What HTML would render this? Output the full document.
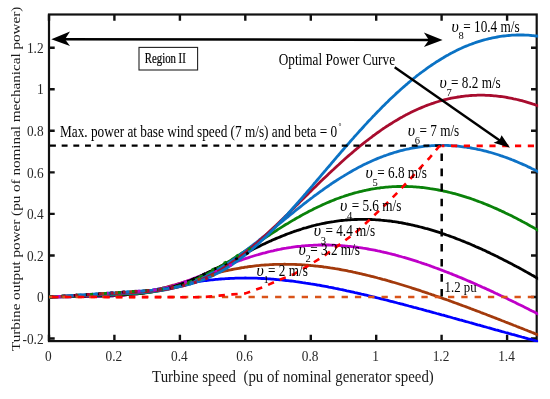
<!DOCTYPE html>
<html><head><meta charset="utf-8"><title>Turbine power characteristics</title>
<style>
html,body{margin:0;padding:0;background:#fff;}
body{width:550px;height:399px;overflow:hidden;}
svg{display:block;font-family:"Liberation Serif","Times New Roman",serif;}
</style></head><body>
<svg width="550" height="399" viewBox="0 0 550 399">
<defs>
<clipPath id="ax"><rect x="49.0" y="14.5" width="489.1" height="327.8"/></clipPath>
</defs>
<rect width="550" height="399" fill="#fff"/>
<g fill="none" stroke="#111" stroke-width="2.2">
<rect x="49.0" y="14.5" width="487.70000000000005" height="326.6"/>
<path d="M49.0,341.1 v-6.3 M49.0,14.5 v6.3 M114.4,341.1 v-6.3 M114.4,14.5 v6.3 M179.9,341.1 v-6.3 M179.9,14.5 v6.3 M245.3,341.1 v-6.3 M245.3,14.5 v6.3 M310.8,341.1 v-6.3 M310.8,14.5 v6.3 M376.2,341.1 v-6.3 M376.2,14.5 v6.3 M441.6,341.1 v-6.3 M441.6,14.5 v6.3 M507.1,341.1 v-6.3 M507.1,14.5 v6.3 M49.0,338.5 h5.7 M536.7,338.5 h-5.7 M49.0,297.0 h5.7 M536.7,297.0 h-5.7 M49.0,255.5 h5.7 M536.7,255.5 h-5.7 M49.0,213.9 h5.7 M536.7,213.9 h-5.7 M49.0,172.4 h5.7 M536.7,172.4 h-5.7 M49.0,130.8 h5.7 M536.7,130.8 h-5.7 M49.0,89.3 h5.7 M536.7,89.3 h-5.7 M49.0,47.8 h5.7 M536.7,47.8 h-5.7" stroke-width="2.4"/>
</g>
<g clip-path="url(#ax)" fill="none" stroke-width="2.8" stroke-linejoin="round">
<path d="M49.0,297.0 L50.6,297.0 L52.3,297.0 L53.9,296.9 L55.5,296.9 L57.2,296.9 L58.8,296.9 L60.5,296.9 L62.1,296.9 L63.7,296.8 L65.4,296.8 L67.0,296.8 L68.6,296.8 L70.3,296.8 L71.9,296.7 L73.5,296.7 L75.2,296.7 L76.8,296.7 L78.4,296.7 L80.1,296.7 L81.7,296.6 L83.4,296.6 L85.0,296.6 L86.6,296.6 L88.3,296.6 L89.9,296.5 L91.5,296.5 L93.2,296.5 L94.8,296.5 L96.4,296.4 L98.1,296.4 L99.7,296.4 L101.4,296.3 L103.0,296.3 L104.6,296.2 L106.3,296.1 L107.9,296.1 L109.5,296.0 L111.2,295.9 L112.8,295.8 L114.4,295.7 L116.1,295.5 L117.7,295.4 L119.3,295.3 L121.0,295.1 L122.6,295.0 L124.3,294.8 L125.9,294.6 L127.5,294.4 L129.2,294.2 L130.8,294.0 L132.4,293.7 L134.1,293.5 L135.7,293.2 L137.3,293.0 L139.0,292.7 L140.6,292.4 L142.3,292.1 L143.9,291.8 L145.5,291.5 L147.2,291.2 L148.8,290.9 L150.4,290.6 L152.1,290.3 L153.7,290.0 L155.3,289.6 L157.0,289.3 L158.6,289.0 L160.2,288.6 L161.9,288.3 L163.5,288.0 L165.2,287.6 L166.8,287.3 L168.4,287.0 L170.1,286.6 L171.7,286.3 L173.3,286.0 L175.0,285.7 L176.6,285.3 L178.2,285.0 L179.9,284.7 L181.5,284.4 L183.2,284.1 L184.8,283.8 L186.4,283.5 L188.1,283.2 L189.7,282.9 L191.3,282.7 L193.0,282.4 L194.6,282.1 L196.2,281.9 L197.9,281.6 L199.5,281.4 L201.1,281.2 L202.8,280.9 L204.4,280.7 L206.1,280.5 L207.7,280.3 L209.3,280.1 L211.0,279.9 L212.6,279.8 L214.2,279.6 L215.9,279.4 L217.5,279.3 L219.1,279.1 L220.8,279.0 L222.4,278.9 L224.1,278.8 L225.7,278.7 L227.3,278.6 L229.0,278.5 L230.6,278.4 L232.2,278.3 L233.9,278.3 L235.5,278.2 L237.1,278.2 L238.8,278.1 L240.4,278.1 L242.0,278.1 L243.7,278.1 L245.3,278.0 L247.0,278.1 L248.6,278.1 L250.2,278.1 L251.9,278.1 L253.5,278.1 L255.1,278.2 L256.8,278.2 L258.4,278.3 L260.0,278.4 L261.7,278.5 L263.3,278.5 L265.0,278.6 L266.6,278.7 L268.2,278.8 L269.9,278.9 L271.5,279.1 L273.1,279.2 L274.8,279.3 L276.4,279.5 L278.0,279.6 L279.7,279.8 L281.3,279.9 L282.9,280.1 L284.6,280.3 L286.2,280.5 L287.9,280.6 L289.5,280.8 L291.1,281.0 L292.8,281.2 L294.4,281.4 L296.0,281.7 L297.7,281.9 L299.3,282.1 L300.9,282.3 L302.6,282.6 L304.2,282.8 L305.9,283.1 L307.5,283.3 L309.1,283.6 L310.8,283.9 L312.4,284.1 L314.0,284.4 L315.7,284.7 L317.3,285.0 L318.9,285.2 L320.6,285.5 L322.2,285.8 L323.8,286.1 L325.5,286.4 L327.1,286.7 L328.8,287.1 L330.4,287.4 L332.0,287.7 L333.7,288.0 L335.3,288.4 L336.9,288.7 L338.6,289.0 L340.2,289.4 L341.8,289.7 L343.5,290.0 L345.1,290.4 L346.8,290.8 L348.4,291.1 L350.0,291.5 L351.7,291.8 L353.3,292.2 L354.9,292.6 L356.6,292.9 L358.2,293.3 L359.8,293.7 L361.5,294.1 L363.1,294.4 L364.7,294.8 L366.4,295.2 L368.0,295.6 L369.7,296.0 L371.3,296.4 L372.9,296.8 L374.6,297.2 L376.2,297.6 L377.8,298.0 L379.5,298.4 L381.1,298.8 L382.7,299.2 L384.4,299.6 L386.0,300.0 L387.7,300.4 L389.3,300.9 L390.9,301.3 L392.6,301.7 L394.2,302.1 L395.8,302.5 L397.5,303.0 L399.1,303.4 L400.7,303.8 L402.4,304.2 L404.0,304.7 L405.6,305.1 L407.3,305.5 L408.9,306.0 L410.6,306.4 L412.2,306.8 L413.8,307.3 L415.5,307.7 L417.1,308.1 L418.7,308.6 L420.4,309.0 L422.0,309.4 L423.6,309.9 L425.3,310.3 L426.9,310.8 L428.6,311.2 L430.2,311.7 L431.8,312.1 L433.5,312.6 L435.1,313.0 L436.7,313.5 L438.4,313.9 L440.0,314.3 L441.6,314.8 L443.3,315.2 L444.9,315.7 L446.5,316.1 L448.2,316.6 L449.8,317.0 L451.5,317.5 L453.1,318.0 L454.7,318.4 L456.4,318.9 L458.0,319.3 L459.6,319.8 L461.3,320.2 L462.9,320.7 L464.5,321.1 L466.2,321.6 L467.8,322.0 L469.5,322.5 L471.1,322.9 L472.7,323.4 L474.4,323.9 L476.0,324.3 L477.6,324.8 L479.3,325.2 L480.9,325.7 L482.5,326.1 L484.2,326.6 L485.8,327.0 L487.4,327.5 L489.1,327.9 L490.7,328.4 L492.4,328.9 L494.0,329.3 L495.6,329.8 L497.3,330.2 L498.9,330.7 L500.5,331.1 L502.2,331.6 L503.8,332.0 L505.4,332.5 L507.1,332.9 L508.7,333.4 L510.4,333.8 L512.0,334.3 L513.6,334.7 L515.3,335.2 L516.9,335.6 L518.5,336.1 L520.2,336.5 L521.8,337.0 L523.4,337.4 L525.1,337.9 L526.7,338.3 L528.3,338.8 L530.0,339.2 L531.6,339.7 L533.3,340.1 L534.9,340.6 L536.5,341.0 L538.2,341.5 L539.8,341.9 L541.4,342.3 L543.1,342.8" stroke="#0000ff"/>
<path d="M49.0,297.0 L50.6,297.0 L52.3,296.9 L53.9,296.9 L55.5,296.9 L57.2,296.9 L58.8,296.8 L60.5,296.8 L62.1,296.8 L63.7,296.8 L65.4,296.7 L67.0,296.7 L68.6,296.7 L70.3,296.7 L71.9,296.6 L73.5,296.6 L75.2,296.6 L76.8,296.6 L78.4,296.5 L80.1,296.5 L81.7,296.5 L83.4,296.5 L85.0,296.4 L86.6,296.4 L88.3,296.4 L89.9,296.3 L91.5,296.3 L93.2,296.3 L94.8,296.3 L96.4,296.2 L98.1,296.2 L99.7,296.2 L101.4,296.1 L103.0,296.1 L104.6,296.0 L106.3,296.0 L107.9,295.9 L109.5,295.9 L111.2,295.8 L112.8,295.8 L114.4,295.7 L116.1,295.6 L117.7,295.5 L119.3,295.4 L121.0,295.3 L122.6,295.2 L124.3,295.0 L125.9,294.9 L127.5,294.7 L129.2,294.5 L130.8,294.3 L132.4,294.1 L134.1,293.9 L135.7,293.7 L137.3,293.5 L139.0,293.2 L140.6,292.9 L142.3,292.7 L143.9,292.4 L145.5,292.1 L147.2,291.7 L148.8,291.4 L150.4,291.1 L152.1,290.7 L153.7,290.3 L155.3,290.0 L157.0,289.6 L158.6,289.2 L160.2,288.8 L161.9,288.3 L163.5,287.9 L165.2,287.5 L166.8,287.0 L168.4,286.6 L170.1,286.1 L171.7,285.7 L173.3,285.2 L175.0,284.8 L176.6,284.3 L178.2,283.8 L179.9,283.3 L181.5,282.9 L183.2,282.4 L184.8,281.9 L186.4,281.4 L188.1,280.9 L189.7,280.4 L191.3,280.0 L193.0,279.5 L194.6,279.0 L196.2,278.5 L197.9,278.1 L199.5,277.6 L201.1,277.1 L202.8,276.7 L204.4,276.2 L206.1,275.8 L207.7,275.3 L209.3,274.9 L211.0,274.5 L212.6,274.0 L214.2,273.6 L215.9,273.2 L217.5,272.8 L219.1,272.4 L220.8,272.0 L222.4,271.6 L224.1,271.2 L225.7,270.9 L227.3,270.5 L229.0,270.2 L230.6,269.8 L232.2,269.5 L233.9,269.2 L235.5,268.9 L237.1,268.6 L238.8,268.3 L240.4,268.0 L242.0,267.7 L243.7,267.5 L245.3,267.2 L247.0,267.0 L248.6,266.7 L250.2,266.5 L251.9,266.3 L253.5,266.1 L255.1,265.9 L256.8,265.7 L258.4,265.6 L260.0,265.4 L261.7,265.2 L263.3,265.1 L265.0,265.0 L266.6,264.9 L268.2,264.8 L269.9,264.7 L271.5,264.6 L273.1,264.5 L274.8,264.4 L276.4,264.4 L278.0,264.3 L279.7,264.3 L281.3,264.3 L282.9,264.3 L284.6,264.2 L286.2,264.3 L287.9,264.3 L289.5,264.3 L291.1,264.3 L292.8,264.4 L294.4,264.4 L296.0,264.5 L297.7,264.6 L299.3,264.6 L300.9,264.7 L302.6,264.8 L304.2,264.9 L305.9,265.1 L307.5,265.2 L309.1,265.3 L310.8,265.5 L312.4,265.6 L314.0,265.8 L315.7,266.0 L317.3,266.1 L318.9,266.3 L320.6,266.5 L322.2,266.7 L323.8,267.0 L325.5,267.2 L327.1,267.4 L328.8,267.6 L330.4,267.9 L332.0,268.1 L333.7,268.4 L335.3,268.7 L336.9,268.9 L338.6,269.2 L340.2,269.5 L341.8,269.8 L343.5,270.1 L345.1,270.4 L346.8,270.7 L348.4,271.1 L350.0,271.4 L351.7,271.7 L353.3,272.1 L354.9,272.4 L356.6,272.8 L358.2,273.2 L359.8,273.5 L361.5,273.9 L363.1,274.3 L364.7,274.7 L366.4,275.1 L368.0,275.5 L369.7,275.9 L371.3,276.3 L372.9,276.7 L374.6,277.1 L376.2,277.5 L377.8,278.0 L379.5,278.4 L381.1,278.8 L382.7,279.3 L384.4,279.7 L386.0,280.2 L387.7,280.7 L389.3,281.1 L390.9,281.6 L392.6,282.1 L394.2,282.5 L395.8,283.0 L397.5,283.5 L399.1,284.0 L400.7,284.5 L402.4,285.0 L404.0,285.5 L405.6,286.0 L407.3,286.5 L408.9,287.0 L410.6,287.5 L412.2,288.1 L413.8,288.6 L415.5,289.1 L417.1,289.7 L418.7,290.2 L420.4,290.7 L422.0,291.3 L423.6,291.8 L425.3,292.4 L426.9,292.9 L428.6,293.5 L430.2,294.0 L431.8,294.6 L433.5,295.1 L435.1,295.7 L436.7,296.3 L438.4,296.9 L440.0,297.4 L441.6,298.0 L443.3,298.6 L444.9,299.2 L446.5,299.7 L448.2,300.3 L449.8,300.9 L451.5,301.5 L453.1,302.1 L454.7,302.7 L456.4,303.3 L458.0,303.9 L459.6,304.5 L461.3,305.1 L462.9,305.7 L464.5,306.3 L466.2,306.9 L467.8,307.5 L469.5,308.1 L471.1,308.8 L472.7,309.4 L474.4,310.0 L476.0,310.6 L477.6,311.2 L479.3,311.8 L480.9,312.5 L482.5,313.1 L484.2,313.7 L485.8,314.3 L487.4,315.0 L489.1,315.6 L490.7,316.2 L492.4,316.9 L494.0,317.5 L495.6,318.1 L497.3,318.8 L498.9,319.4 L500.5,320.0 L502.2,320.7 L503.8,321.3 L505.4,322.0 L507.1,322.6 L508.7,323.2 L510.4,323.9 L512.0,324.5 L513.6,325.2 L515.3,325.8 L516.9,326.5 L518.5,327.1 L520.2,327.8 L521.8,328.4 L523.4,329.0 L525.1,329.7 L526.7,330.3 L528.3,331.0 L530.0,331.6 L531.6,332.3 L533.3,332.9 L534.9,333.6 L536.5,334.2 L538.2,334.9 L539.8,335.6 L541.4,336.2 L543.1,336.9" stroke="#a33a0c"/>
<path d="M49.0,297.0 L50.6,297.0 L52.3,296.9 L53.9,296.9 L55.5,296.9 L57.2,296.8 L58.8,296.8 L60.5,296.8 L62.1,296.7 L63.7,296.7 L65.4,296.6 L67.0,296.6 L68.6,296.6 L70.3,296.5 L71.9,296.5 L73.5,296.5 L75.2,296.4 L76.8,296.4 L78.4,296.4 L80.1,296.3 L81.7,296.3 L83.4,296.3 L85.0,296.2 L86.6,296.2 L88.3,296.1 L89.9,296.1 L91.5,296.1 L93.2,296.0 L94.8,296.0 L96.4,296.0 L98.1,295.9 L99.7,295.9 L101.4,295.9 L103.0,295.8 L104.6,295.8 L106.3,295.7 L107.9,295.7 L109.5,295.6 L111.2,295.6 L112.8,295.5 L114.4,295.5 L116.1,295.4 L117.7,295.3 L119.3,295.3 L121.0,295.2 L122.6,295.1 L124.3,295.0 L125.9,294.9 L127.5,294.7 L129.2,294.6 L130.8,294.5 L132.4,294.3 L134.1,294.2 L135.7,294.0 L137.3,293.8 L139.0,293.6 L140.6,293.3 L142.3,293.1 L143.9,292.9 L145.5,292.6 L147.2,292.3 L148.8,292.0 L150.4,291.7 L152.1,291.4 L153.7,291.0 L155.3,290.7 L157.0,290.3 L158.6,289.9 L160.2,289.5 L161.9,289.1 L163.5,288.6 L165.2,288.2 L166.8,287.7 L168.4,287.2 L170.1,286.8 L171.7,286.2 L173.3,285.7 L175.0,285.2 L176.6,284.7 L178.2,284.1 L179.9,283.5 L181.5,283.0 L183.2,282.4 L184.8,281.8 L186.4,281.2 L188.1,280.6 L189.7,280.0 L191.3,279.4 L193.0,278.7 L194.6,278.1 L196.2,277.5 L197.9,276.8 L199.5,276.2 L201.1,275.5 L202.8,274.9 L204.4,274.2 L206.1,273.6 L207.7,272.9 L209.3,272.2 L211.0,271.6 L212.6,270.9 L214.2,270.3 L215.9,269.6 L217.5,269.0 L219.1,268.3 L220.8,267.7 L222.4,267.0 L224.1,266.4 L225.7,265.8 L227.3,265.1 L229.0,264.5 L230.6,263.9 L232.2,263.3 L233.9,262.7 L235.5,262.1 L237.1,261.5 L238.8,260.9 L240.4,260.3 L242.0,259.8 L243.7,259.2 L245.3,258.6 L247.0,258.1 L248.6,257.6 L250.2,257.0 L251.9,256.5 L253.5,256.0 L255.1,255.5 L256.8,255.0 L258.4,254.6 L260.0,254.1 L261.7,253.6 L263.3,253.2 L265.0,252.8 L266.6,252.3 L268.2,251.9 L269.9,251.5 L271.5,251.1 L273.1,250.8 L274.8,250.4 L276.4,250.0 L278.0,249.7 L279.7,249.4 L281.3,249.0 L282.9,248.7 L284.6,248.4 L286.2,248.2 L287.9,247.9 L289.5,247.6 L291.1,247.4 L292.8,247.1 L294.4,246.9 L296.0,246.7 L297.7,246.5 L299.3,246.3 L300.9,246.2 L302.6,246.0 L304.2,245.8 L305.9,245.7 L307.5,245.6 L309.1,245.5 L310.8,245.4 L312.4,245.3 L314.0,245.2 L315.7,245.1 L317.3,245.1 L318.9,245.0 L320.6,245.0 L322.2,245.0 L323.8,245.0 L325.5,245.0 L327.1,245.0 L328.8,245.0 L330.4,245.1 L332.0,245.1 L333.7,245.2 L335.3,245.3 L336.9,245.4 L338.6,245.5 L340.2,245.6 L341.8,245.7 L343.5,245.8 L345.1,246.0 L346.8,246.1 L348.4,246.3 L350.0,246.4 L351.7,246.6 L353.3,246.8 L354.9,247.0 L356.6,247.2 L358.2,247.5 L359.8,247.7 L361.5,247.9 L363.1,248.2 L364.7,248.4 L366.4,248.7 L368.0,249.0 L369.7,249.3 L371.3,249.6 L372.9,249.9 L374.6,250.2 L376.2,250.5 L377.8,250.9 L379.5,251.2 L381.1,251.6 L382.7,252.0 L384.4,252.3 L386.0,252.7 L387.7,253.1 L389.3,253.5 L390.9,253.9 L392.6,254.3 L394.2,254.7 L395.8,255.2 L397.5,255.6 L399.1,256.1 L400.7,256.5 L402.4,257.0 L404.0,257.4 L405.6,257.9 L407.3,258.4 L408.9,258.9 L410.6,259.4 L412.2,259.9 L413.8,260.4 L415.5,260.9 L417.1,261.4 L418.7,262.0 L420.4,262.5 L422.0,263.1 L423.6,263.6 L425.3,264.2 L426.9,264.7 L428.6,265.3 L430.2,265.9 L431.8,266.5 L433.5,267.1 L435.1,267.7 L436.7,268.3 L438.4,268.9 L440.0,269.5 L441.6,270.1 L443.3,270.7 L444.9,271.4 L446.5,272.0 L448.2,272.6 L449.8,273.3 L451.5,273.9 L453.1,274.6 L454.7,275.2 L456.4,275.9 L458.0,276.6 L459.6,277.2 L461.3,277.9 L462.9,278.6 L464.5,279.3 L466.2,280.0 L467.8,280.7 L469.5,281.4 L471.1,282.1 L472.7,282.8 L474.4,283.5 L476.0,284.2 L477.6,285.0 L479.3,285.7 L480.9,286.4 L482.5,287.2 L484.2,287.9 L485.8,288.6 L487.4,289.4 L489.1,290.1 L490.7,290.9 L492.4,291.6 L494.0,292.4 L495.6,293.2 L497.3,293.9 L498.9,294.7 L500.5,295.5 L502.2,296.2 L503.8,297.0 L505.4,297.8 L507.1,298.6 L508.7,299.4 L510.4,300.2 L512.0,301.0 L513.6,301.8 L515.3,302.6 L516.9,303.4 L518.5,304.2 L520.2,305.0 L521.8,305.8 L523.4,306.6 L525.1,307.4 L526.7,308.2 L528.3,309.0 L530.0,309.9 L531.6,310.7 L533.3,311.5 L534.9,312.3 L536.5,313.2 L538.2,314.0 L539.8,314.8 L541.4,315.7 L543.1,316.5" stroke="#bf00c8"/>
<path d="M49.0,297.0 L50.6,297.0 L52.3,296.9 L53.9,296.9 L55.5,296.8 L57.2,296.8 L58.8,296.7 L60.5,296.7 L62.1,296.6 L63.7,296.6 L65.4,296.5 L67.0,296.5 L68.6,296.4 L70.3,296.4 L71.9,296.4 L73.5,296.3 L75.2,296.3 L76.8,296.2 L78.4,296.2 L80.1,296.1 L81.7,296.1 L83.4,296.0 L85.0,296.0 L86.6,295.9 L88.3,295.9 L89.9,295.8 L91.5,295.8 L93.2,295.7 L94.8,295.7 L96.4,295.7 L98.1,295.6 L99.7,295.6 L101.4,295.5 L103.0,295.5 L104.6,295.4 L106.3,295.4 L107.9,295.3 L109.5,295.3 L111.2,295.2 L112.8,295.2 L114.4,295.1 L116.1,295.0 L117.7,295.0 L119.3,294.9 L121.0,294.8 L122.6,294.8 L124.3,294.7 L125.9,294.6 L127.5,294.5 L129.2,294.4 L130.8,294.3 L132.4,294.2 L134.1,294.1 L135.7,293.9 L137.3,293.8 L139.0,293.6 L140.6,293.4 L142.3,293.3 L143.9,293.1 L145.5,292.8 L147.2,292.6 L148.8,292.4 L150.4,292.1 L152.1,291.8 L153.7,291.6 L155.3,291.2 L157.0,290.9 L158.6,290.6 L160.2,290.2 L161.9,289.8 L163.5,289.4 L165.2,289.0 L166.8,288.6 L168.4,288.2 L170.1,287.7 L171.7,287.2 L173.3,286.7 L175.0,286.2 L176.6,285.6 L178.2,285.1 L179.9,284.5 L181.5,283.9 L183.2,283.3 L184.8,282.7 L186.4,282.1 L188.1,281.4 L189.7,280.8 L191.3,280.1 L193.0,279.4 L194.6,278.7 L196.2,278.0 L197.9,277.2 L199.5,276.5 L201.1,275.7 L202.8,275.0 L204.4,274.2 L206.1,273.4 L207.7,272.6 L209.3,271.8 L211.0,271.0 L212.6,270.2 L214.2,269.4 L215.9,268.5 L217.5,267.7 L219.1,266.9 L220.8,266.0 L222.4,265.2 L224.1,264.3 L225.7,263.5 L227.3,262.6 L229.0,261.8 L230.6,260.9 L232.2,260.0 L233.9,259.2 L235.5,258.3 L237.1,257.5 L238.8,256.6 L240.4,255.8 L242.0,254.9 L243.7,254.1 L245.3,253.2 L247.0,252.4 L248.6,251.6 L250.2,250.7 L251.9,249.9 L253.5,249.1 L255.1,248.3 L256.8,247.5 L258.4,246.7 L260.0,245.9 L261.7,245.1 L263.3,244.3 L265.0,243.6 L266.6,242.8 L268.2,242.0 L269.9,241.3 L271.5,240.6 L273.1,239.8 L274.8,239.1 L276.4,238.4 L278.0,237.7 L279.7,237.1 L281.3,236.4 L282.9,235.7 L284.6,235.1 L286.2,234.4 L287.9,233.8 L289.5,233.2 L291.1,232.6 L292.8,232.0 L294.4,231.4 L296.0,230.9 L297.7,230.3 L299.3,229.8 L300.9,229.3 L302.6,228.7 L304.2,228.2 L305.9,227.8 L307.5,227.3 L309.1,226.8 L310.8,226.4 L312.4,225.9 L314.0,225.5 L315.7,225.1 L317.3,224.7 L318.9,224.4 L320.6,224.0 L322.2,223.6 L323.8,223.3 L325.5,223.0 L327.1,222.7 L328.8,222.4 L330.4,222.1 L332.0,221.8 L333.7,221.6 L335.3,221.3 L336.9,221.1 L338.6,220.9 L340.2,220.7 L341.8,220.5 L343.5,220.3 L345.1,220.2 L346.8,220.0 L348.4,219.9 L350.0,219.8 L351.7,219.7 L353.3,219.6 L354.9,219.5 L356.6,219.5 L358.2,219.4 L359.8,219.4 L361.5,219.4 L363.1,219.4 L364.7,219.4 L366.4,219.4 L368.0,219.4 L369.7,219.5 L371.3,219.5 L372.9,219.6 L374.6,219.7 L376.2,219.8 L377.8,219.9 L379.5,220.0 L381.1,220.2 L382.7,220.3 L384.4,220.5 L386.0,220.6 L387.7,220.8 L389.3,221.0 L390.9,221.2 L392.6,221.5 L394.2,221.7 L395.8,221.9 L397.5,222.2 L399.1,222.5 L400.7,222.7 L402.4,223.0 L404.0,223.3 L405.6,223.7 L407.3,224.0 L408.9,224.3 L410.6,224.7 L412.2,225.0 L413.8,225.4 L415.5,225.8 L417.1,226.2 L418.7,226.6 L420.4,227.0 L422.0,227.4 L423.6,227.8 L425.3,228.3 L426.9,228.7 L428.6,229.2 L430.2,229.7 L431.8,230.2 L433.5,230.7 L435.1,231.2 L436.7,231.7 L438.4,232.2 L440.0,232.7 L441.6,233.3 L443.3,233.8 L444.9,234.4 L446.5,235.0 L448.2,235.5 L449.8,236.1 L451.5,236.7 L453.1,237.3 L454.7,237.9 L456.4,238.6 L458.0,239.2 L459.6,239.8 L461.3,240.5 L462.9,241.1 L464.5,241.8 L466.2,242.5 L467.8,243.1 L469.5,243.8 L471.1,244.5 L472.7,245.2 L474.4,245.9 L476.0,246.7 L477.6,247.4 L479.3,248.1 L480.9,248.8 L482.5,249.6 L484.2,250.3 L485.8,251.1 L487.4,251.9 L489.1,252.6 L490.7,253.4 L492.4,254.2 L494.0,255.0 L495.6,255.8 L497.3,256.6 L498.9,257.4 L500.5,258.2 L502.2,259.1 L503.8,259.9 L505.4,260.7 L507.1,261.6 L508.7,262.4 L510.4,263.3 L512.0,264.1 L513.6,265.0 L515.3,265.9 L516.9,266.8 L518.5,267.6 L520.2,268.5 L521.8,269.4 L523.4,270.3 L525.1,271.2 L526.7,272.1 L528.3,273.0 L530.0,274.0 L531.6,274.9 L533.3,275.8 L534.9,276.8 L536.5,277.7 L538.2,278.6 L539.8,279.6 L541.4,280.5 L543.1,281.5" stroke="#000000"/>
<path d="M49.0,297.0 L50.6,296.9 L52.3,296.9 L53.9,296.8 L55.5,296.8 L57.2,296.7 L58.8,296.6 L60.5,296.6 L62.1,296.5 L63.7,296.5 L65.4,296.4 L67.0,296.4 L68.6,296.3 L70.3,296.2 L71.9,296.2 L73.5,296.1 L75.2,296.1 L76.8,296.0 L78.4,295.9 L80.1,295.9 L81.7,295.8 L83.4,295.8 L85.0,295.7 L86.6,295.6 L88.3,295.6 L89.9,295.5 L91.5,295.5 L93.2,295.4 L94.8,295.4 L96.4,295.3 L98.1,295.2 L99.7,295.2 L101.4,295.1 L103.0,295.1 L104.6,295.0 L106.3,294.9 L107.9,294.9 L109.5,294.8 L111.2,294.8 L112.8,294.7 L114.4,294.6 L116.1,294.6 L117.7,294.5 L119.3,294.4 L121.0,294.4 L122.6,294.3 L124.3,294.2 L125.9,294.1 L127.5,294.1 L129.2,294.0 L130.8,293.9 L132.4,293.8 L134.1,293.7 L135.7,293.6 L137.3,293.5 L139.0,293.3 L140.6,293.2 L142.3,293.0 L143.9,292.9 L145.5,292.7 L147.2,292.5 L148.8,292.4 L150.4,292.1 L152.1,291.9 L153.7,291.7 L155.3,291.4 L157.0,291.2 L158.6,290.9 L160.2,290.6 L161.9,290.3 L163.5,290.0 L165.2,289.6 L166.8,289.2 L168.4,288.9 L170.1,288.4 L171.7,288.0 L173.3,287.6 L175.0,287.1 L176.6,286.6 L178.2,286.1 L179.9,285.6 L181.5,285.0 L183.2,284.5 L184.8,283.9 L186.4,283.3 L188.1,282.7 L189.7,282.0 L191.3,281.3 L193.0,280.7 L194.6,280.0 L196.2,279.2 L197.9,278.5 L199.5,277.7 L201.1,276.9 L202.8,276.1 L204.4,275.3 L206.1,274.5 L207.7,273.7 L209.3,272.8 L211.0,271.9 L212.6,271.0 L214.2,270.1 L215.9,269.2 L217.5,268.3 L219.1,267.3 L220.8,266.4 L222.4,265.4 L224.1,264.4 L225.7,263.4 L227.3,262.4 L229.0,261.4 L230.6,260.4 L232.2,259.3 L233.9,258.3 L235.5,257.3 L237.1,256.2 L238.8,255.2 L240.4,254.1 L242.0,253.0 L243.7,252.0 L245.3,250.9 L247.0,249.8 L248.6,248.7 L250.2,247.6 L251.9,246.6 L253.5,245.5 L255.1,244.4 L256.8,243.3 L258.4,242.2 L260.0,241.1 L261.7,240.1 L263.3,239.0 L265.0,237.9 L266.6,236.8 L268.2,235.8 L269.9,234.7 L271.5,233.6 L273.1,232.6 L274.8,231.5 L276.4,230.5 L278.0,229.4 L279.7,228.4 L281.3,227.4 L282.9,226.4 L284.6,225.3 L286.2,224.3 L287.9,223.4 L289.5,222.4 L291.1,221.4 L292.8,220.4 L294.4,219.5 L296.0,218.5 L297.7,217.6 L299.3,216.7 L300.9,215.7 L302.6,214.8 L304.2,213.9 L305.9,213.1 L307.5,212.2 L309.1,211.3 L310.8,210.5 L312.4,209.7 L314.0,208.8 L315.7,208.0 L317.3,207.2 L318.9,206.5 L320.6,205.7 L322.2,204.9 L323.8,204.2 L325.5,203.5 L327.1,202.8 L328.8,202.1 L330.4,201.4 L332.0,200.7 L333.7,200.1 L335.3,199.4 L336.9,198.8 L338.6,198.2 L340.2,197.6 L341.8,197.0 L343.5,196.5 L345.1,195.9 L346.8,195.4 L348.4,194.9 L350.0,194.3 L351.7,193.9 L353.3,193.4 L354.9,192.9 L356.6,192.5 L358.2,192.1 L359.8,191.7 L361.5,191.3 L363.1,190.9 L364.7,190.5 L366.4,190.2 L368.0,189.8 L369.7,189.5 L371.3,189.2 L372.9,188.9 L374.6,188.7 L376.2,188.4 L377.8,188.2 L379.5,188.0 L381.1,187.7 L382.7,187.6 L384.4,187.4 L386.0,187.2 L387.7,187.1 L389.3,186.9 L390.9,186.8 L392.6,186.7 L394.2,186.7 L395.8,186.6 L397.5,186.5 L399.1,186.5 L400.7,186.5 L402.4,186.5 L404.0,186.5 L405.6,186.5 L407.3,186.5 L408.9,186.6 L410.6,186.7 L412.2,186.7 L413.8,186.8 L415.5,186.9 L417.1,187.1 L418.7,187.2 L420.4,187.4 L422.0,187.5 L423.6,187.7 L425.3,187.9 L426.9,188.1 L428.6,188.3 L430.2,188.6 L431.8,188.8 L433.5,189.1 L435.1,189.4 L436.7,189.7 L438.4,190.0 L440.0,190.3 L441.6,190.6 L443.3,191.0 L444.9,191.3 L446.5,191.7 L448.2,192.1 L449.8,192.5 L451.5,192.9 L453.1,193.3 L454.7,193.7 L456.4,194.2 L458.0,194.6 L459.6,195.1 L461.3,195.6 L462.9,196.1 L464.5,196.6 L466.2,197.1 L467.8,197.7 L469.5,198.2 L471.1,198.7 L472.7,199.3 L474.4,199.9 L476.0,200.5 L477.6,201.1 L479.3,201.7 L480.9,202.3 L482.5,202.9 L484.2,203.6 L485.8,204.2 L487.4,204.9 L489.1,205.6 L490.7,206.3 L492.4,207.0 L494.0,207.7 L495.6,208.4 L497.3,209.1 L498.9,209.9 L500.5,210.6 L502.2,211.4 L503.8,212.1 L505.4,212.9 L507.1,213.7 L508.7,214.5 L510.4,215.3 L512.0,216.1 L513.6,216.9 L515.3,217.8 L516.9,218.6 L518.5,219.5 L520.2,220.3 L521.8,221.2 L523.4,222.1 L525.1,222.9 L526.7,223.8 L528.3,224.7 L530.0,225.7 L531.6,226.6 L533.3,227.5 L534.9,228.4 L536.5,229.4 L538.2,230.3 L539.8,231.3 L541.4,232.3 L543.1,233.2" stroke="#0a820a"/>
<path d="M49.0,297.0 L50.6,296.9 L52.3,296.9 L53.9,296.8 L55.5,296.7 L57.2,296.6 L58.8,296.6 L60.5,296.5 L62.1,296.4 L63.7,296.3 L65.4,296.3 L67.0,296.2 L68.6,296.1 L70.3,296.1 L71.9,296.0 L73.5,295.9 L75.2,295.8 L76.8,295.8 L78.4,295.7 L80.1,295.6 L81.7,295.6 L83.4,295.5 L85.0,295.4 L86.6,295.3 L88.3,295.3 L89.9,295.2 L91.5,295.1 L93.2,295.0 L94.8,295.0 L96.4,294.9 L98.1,294.8 L99.7,294.8 L101.4,294.7 L103.0,294.6 L104.6,294.5 L106.3,294.5 L107.9,294.4 L109.5,294.3 L111.2,294.2 L112.8,294.2 L114.4,294.1 L116.1,294.0 L117.7,293.9 L119.3,293.9 L121.0,293.8 L122.6,293.7 L124.3,293.6 L125.9,293.6 L127.5,293.5 L129.2,293.4 L130.8,293.3 L132.4,293.2 L134.1,293.1 L135.7,293.0 L137.3,292.9 L139.0,292.8 L140.6,292.7 L142.3,292.6 L143.9,292.4 L145.5,292.3 L147.2,292.1 L148.8,292.0 L150.4,291.8 L152.1,291.6 L153.7,291.4 L155.3,291.2 L157.0,291.0 L158.6,290.8 L160.2,290.6 L161.9,290.3 L163.5,290.0 L165.2,289.8 L166.8,289.5 L168.4,289.1 L170.1,288.8 L171.7,288.4 L173.3,288.1 L175.0,287.7 L176.6,287.2 L178.2,286.8 L179.9,286.4 L181.5,285.9 L183.2,285.4 L184.8,284.9 L186.4,284.3 L188.1,283.8 L189.7,283.2 L191.3,282.6 L193.0,281.9 L194.6,281.3 L196.2,280.6 L197.9,279.9 L199.5,279.2 L201.1,278.4 L202.8,277.7 L204.4,276.9 L206.1,276.1 L207.7,275.2 L209.3,274.4 L211.0,273.5 L212.6,272.6 L214.2,271.7 L215.9,270.8 L217.5,269.8 L219.1,268.8 L220.8,267.8 L222.4,266.8 L224.1,265.8 L225.7,264.7 L227.3,263.7 L229.0,262.6 L230.6,261.5 L232.2,260.4 L233.9,259.2 L235.5,258.1 L237.1,256.9 L238.8,255.8 L240.4,254.6 L242.0,253.4 L243.7,252.1 L245.3,250.9 L247.0,249.7 L248.6,248.4 L250.2,247.2 L251.9,245.9 L253.5,244.6 L255.1,243.3 L256.8,242.1 L258.4,240.8 L260.0,239.4 L261.7,238.1 L263.3,236.8 L265.0,235.5 L266.6,234.2 L268.2,232.8 L269.9,231.5 L271.5,230.2 L273.1,228.8 L274.8,227.5 L276.4,226.2 L278.0,224.8 L279.7,223.5 L281.3,222.1 L282.9,220.8 L284.6,219.5 L286.2,218.1 L287.9,216.8 L289.5,215.5 L291.1,214.2 L292.8,212.8 L294.4,211.5 L296.0,210.2 L297.7,208.9 L299.3,207.6 L300.9,206.3 L302.6,205.0 L304.2,203.7 L305.9,202.5 L307.5,201.2 L309.1,200.0 L310.8,198.7 L312.4,197.5 L314.0,196.2 L315.7,195.0 L317.3,193.8 L318.9,192.6 L320.6,191.4 L322.2,190.3 L323.8,189.1 L325.5,187.9 L327.1,186.8 L328.8,185.7 L330.4,184.5 L332.0,183.4 L333.7,182.3 L335.3,181.3 L336.9,180.2 L338.6,179.1 L340.2,178.1 L341.8,177.1 L343.5,176.1 L345.1,175.1 L346.8,174.1 L348.4,173.1 L350.0,172.2 L351.7,171.2 L353.3,170.3 L354.9,169.4 L356.6,168.5 L358.2,167.6 L359.8,166.8 L361.5,165.9 L363.1,165.1 L364.7,164.3 L366.4,163.5 L368.0,162.7 L369.7,162.0 L371.3,161.2 L372.9,160.5 L374.6,159.8 L376.2,159.1 L377.8,158.4 L379.5,157.7 L381.1,157.1 L382.7,156.5 L384.4,155.8 L386.0,155.3 L387.7,154.7 L389.3,154.1 L390.9,153.6 L392.6,153.1 L394.2,152.5 L395.8,152.1 L397.5,151.6 L399.1,151.1 L400.7,150.7 L402.4,150.3 L404.0,149.9 L405.6,149.5 L407.3,149.1 L408.9,148.8 L410.6,148.4 L412.2,148.1 L413.8,147.8 L415.5,147.5 L417.1,147.3 L418.7,147.0 L420.4,146.8 L422.0,146.6 L423.6,146.4 L425.3,146.2 L426.9,146.1 L428.6,145.9 L430.2,145.8 L431.8,145.7 L433.5,145.6 L435.1,145.5 L436.7,145.5 L438.4,145.4 L440.0,145.4 L441.6,145.4 L443.3,145.4 L444.9,145.4 L446.5,145.4 L448.2,145.5 L449.8,145.6 L451.5,145.7 L453.1,145.8 L454.7,145.9 L456.4,146.0 L458.0,146.2 L459.6,146.4 L461.3,146.6 L462.9,146.8 L464.5,147.0 L466.2,147.2 L467.8,147.5 L469.5,147.7 L471.1,148.0 L472.7,148.3 L474.4,148.6 L476.0,148.9 L477.6,149.3 L479.3,149.6 L480.9,150.0 L482.5,150.4 L484.2,150.8 L485.8,151.2 L487.4,151.6 L489.1,152.1 L490.7,152.5 L492.4,153.0 L494.0,153.5 L495.6,154.0 L497.3,154.5 L498.9,155.0 L500.5,155.6 L502.2,156.1 L503.8,156.7 L505.4,157.3 L507.1,157.9 L508.7,158.5 L510.4,159.1 L512.0,159.8 L513.6,160.4 L515.3,161.1 L516.9,161.8 L518.5,162.5 L520.2,163.2 L521.8,163.9 L523.4,164.6 L525.1,165.3 L526.7,166.1 L528.3,166.9 L530.0,167.6 L531.6,168.4 L533.3,169.2 L534.9,170.0 L536.5,170.9 L538.2,171.7 L539.8,172.5 L541.4,173.4 L543.1,174.3" stroke="#0e72c6"/>
<path d="M49.0,297.0 L50.6,296.9 L52.3,296.8 L53.9,296.7 L55.5,296.6 L57.2,296.6 L58.8,296.5 L60.5,296.4 L62.1,296.3 L63.7,296.2 L65.4,296.1 L67.0,296.0 L68.6,295.9 L70.3,295.9 L71.9,295.8 L73.5,295.7 L75.2,295.6 L76.8,295.5 L78.4,295.4 L80.1,295.3 L81.7,295.2 L83.4,295.2 L85.0,295.1 L86.6,295.0 L88.3,294.9 L89.9,294.8 L91.5,294.7 L93.2,294.6 L94.8,294.5 L96.4,294.5 L98.1,294.4 L99.7,294.3 L101.4,294.2 L103.0,294.1 L104.6,294.0 L106.3,293.9 L107.9,293.8 L109.5,293.8 L111.2,293.7 L112.8,293.6 L114.4,293.5 L116.1,293.4 L117.7,293.3 L119.3,293.2 L121.0,293.1 L122.6,293.0 L124.3,293.0 L125.9,292.9 L127.5,292.8 L129.2,292.7 L130.8,292.6 L132.4,292.5 L134.1,292.4 L135.7,292.3 L137.3,292.2 L139.0,292.1 L140.6,292.0 L142.3,291.8 L143.9,291.7 L145.5,291.6 L147.2,291.5 L148.8,291.3 L150.4,291.2 L152.1,291.0 L153.7,290.9 L155.3,290.7 L157.0,290.5 L158.6,290.3 L160.2,290.1 L161.9,289.9 L163.5,289.7 L165.2,289.5 L166.8,289.2 L168.4,289.0 L170.1,288.7 L171.7,288.4 L173.3,288.1 L175.0,287.7 L176.6,287.4 L178.2,287.0 L179.9,286.6 L181.5,286.2 L183.2,285.8 L184.8,285.4 L186.4,284.9 L188.1,284.4 L189.7,283.9 L191.3,283.4 L193.0,282.8 L194.6,282.3 L196.2,281.7 L197.9,281.0 L199.5,280.4 L201.1,279.7 L202.8,279.0 L204.4,278.3 L206.1,277.6 L207.7,276.8 L209.3,276.0 L211.0,275.2 L212.6,274.3 L214.2,273.5 L215.9,272.6 L217.5,271.6 L219.1,270.7 L220.8,269.7 L222.4,268.8 L224.1,267.7 L225.7,266.7 L227.3,265.6 L229.0,264.6 L230.6,263.4 L232.2,262.3 L233.9,261.2 L235.5,260.0 L237.1,258.8 L238.8,257.6 L240.4,256.3 L242.0,255.1 L243.7,253.8 L245.3,252.5 L247.0,251.2 L248.6,249.9 L250.2,248.5 L251.9,247.2 L253.5,245.8 L255.1,244.4 L256.8,243.0 L258.4,241.5 L260.0,240.1 L261.7,238.6 L263.3,237.1 L265.0,235.7 L266.6,234.2 L268.2,232.7 L269.9,231.1 L271.5,229.6 L273.1,228.1 L274.8,226.5 L276.4,225.0 L278.0,223.4 L279.7,221.8 L281.3,220.2 L282.9,218.7 L284.6,217.1 L286.2,215.5 L287.9,213.9 L289.5,212.3 L291.1,210.6 L292.8,209.0 L294.4,207.4 L296.0,205.8 L297.7,204.2 L299.3,202.6 L300.9,200.9 L302.6,199.3 L304.2,197.7 L305.9,196.1 L307.5,194.5 L309.1,192.8 L310.8,191.2 L312.4,189.6 L314.0,188.0 L315.7,186.4 L317.3,184.8 L318.9,183.2 L320.6,181.6 L322.2,180.1 L323.8,178.5 L325.5,176.9 L327.1,175.4 L328.8,173.8 L330.4,172.3 L332.0,170.7 L333.7,169.2 L335.3,167.7 L336.9,166.2 L338.6,164.7 L340.2,163.2 L341.8,161.7 L343.5,160.2 L345.1,158.8 L346.8,157.3 L348.4,155.9 L350.0,154.5 L351.7,153.1 L353.3,151.7 L354.9,150.3 L356.6,148.9 L358.2,147.6 L359.8,146.2 L361.5,144.9 L363.1,143.6 L364.7,142.3 L366.4,141.0 L368.0,139.8 L369.7,138.5 L371.3,137.3 L372.9,136.0 L374.6,134.8 L376.2,133.6 L377.8,132.5 L379.5,131.3 L381.1,130.2 L382.7,129.0 L384.4,127.9 L386.0,126.8 L387.7,125.8 L389.3,124.7 L390.9,123.7 L392.6,122.7 L394.2,121.6 L395.8,120.7 L397.5,119.7 L399.1,118.7 L400.7,117.8 L402.4,116.9 L404.0,116.0 L405.6,115.1 L407.3,114.3 L408.9,113.4 L410.6,112.6 L412.2,111.8 L413.8,111.0 L415.5,110.2 L417.1,109.5 L418.7,108.8 L420.4,108.1 L422.0,107.4 L423.6,106.7 L425.3,106.0 L426.9,105.4 L428.6,104.8 L430.2,104.2 L431.8,103.6 L433.5,103.1 L435.1,102.5 L436.7,102.0 L438.4,101.5 L440.0,101.0 L441.6,100.6 L443.3,100.1 L444.9,99.7 L446.5,99.3 L448.2,98.9 L449.8,98.5 L451.5,98.2 L453.1,97.9 L454.7,97.6 L456.4,97.3 L458.0,97.0 L459.6,96.8 L461.3,96.5 L462.9,96.3 L464.5,96.1 L466.2,95.9 L467.8,95.8 L469.5,95.6 L471.1,95.5 L472.7,95.4 L474.4,95.3 L476.0,95.3 L477.6,95.2 L479.3,95.2 L480.9,95.2 L482.5,95.2 L484.2,95.2 L485.8,95.3 L487.4,95.3 L489.1,95.4 L490.7,95.5 L492.4,95.6 L494.0,95.8 L495.6,95.9 L497.3,96.1 L498.9,96.3 L500.5,96.5 L502.2,96.7 L503.8,96.9 L505.4,97.2 L507.1,97.5 L508.7,97.8 L510.4,98.1 L512.0,98.4 L513.6,98.8 L515.3,99.1 L516.9,99.5 L518.5,99.9 L520.2,100.3 L521.8,100.7 L523.4,101.2 L525.1,101.6 L526.7,102.1 L528.3,102.6 L530.0,103.1 L531.6,103.6 L533.3,104.2 L534.9,104.7 L536.5,105.3 L538.2,105.9 L539.8,106.5 L541.4,107.1 L543.1,107.7" stroke="#a80c2e"/>
<path d="M49.0,297.0 L50.6,296.9 L52.3,296.8 L53.9,296.7 L55.5,296.6 L57.2,296.5 L58.8,296.4 L60.5,296.3 L62.1,296.2 L63.7,296.1 L65.4,296.0 L67.0,295.9 L68.6,295.7 L70.3,295.6 L71.9,295.5 L73.5,295.4 L75.2,295.3 L76.8,295.2 L78.4,295.1 L80.1,295.0 L81.7,294.9 L83.4,294.8 L85.0,294.7 L86.6,294.6 L88.3,294.5 L89.9,294.4 L91.5,294.3 L93.2,294.2 L94.8,294.1 L96.4,294.0 L98.1,293.9 L99.7,293.8 L101.4,293.7 L103.0,293.6 L104.6,293.5 L106.3,293.3 L107.9,293.2 L109.5,293.1 L111.2,293.0 L112.8,292.9 L114.4,292.8 L116.1,292.7 L117.7,292.6 L119.3,292.5 L121.0,292.4 L122.6,292.3 L124.3,292.2 L125.9,292.1 L127.5,292.0 L129.2,291.9 L130.8,291.8 L132.4,291.7 L134.1,291.5 L135.7,291.4 L137.3,291.3 L139.0,291.2 L140.6,291.1 L142.3,291.0 L143.9,290.9 L145.5,290.7 L147.2,290.6 L148.8,290.5 L150.4,290.3 L152.1,290.2 L153.7,290.0 L155.3,289.9 L157.0,289.7 L158.6,289.6 L160.2,289.4 L161.9,289.2 L163.5,289.0 L165.2,288.8 L166.8,288.6 L168.4,288.4 L170.1,288.1 L171.7,287.9 L173.3,287.6 L175.0,287.4 L176.6,287.1 L178.2,286.8 L179.9,286.4 L181.5,286.1 L183.2,285.7 L184.8,285.4 L186.4,285.0 L188.1,284.6 L189.7,284.1 L191.3,283.7 L193.0,283.2 L194.6,282.7 L196.2,282.2 L197.9,281.7 L199.5,281.1 L201.1,280.5 L202.8,279.9 L204.4,279.3 L206.1,278.6 L207.7,277.9 L209.3,277.2 L211.0,276.5 L212.6,275.7 L214.2,274.9 L215.9,274.1 L217.5,273.3 L219.1,272.4 L220.8,271.5 L222.4,270.6 L224.1,269.6 L225.7,268.7 L227.3,267.7 L229.0,266.6 L230.6,265.6 L232.2,264.5 L233.9,263.4 L235.5,262.2 L237.1,261.1 L238.8,259.9 L240.4,258.7 L242.0,257.4 L243.7,256.2 L245.3,254.9 L247.0,253.6 L248.6,252.2 L250.2,250.9 L251.9,249.5 L253.5,248.0 L255.1,246.6 L256.8,245.2 L258.4,243.7 L260.0,242.2 L261.7,240.6 L263.3,239.1 L265.0,237.5 L266.6,236.0 L268.2,234.4 L269.9,232.7 L271.5,231.1 L273.1,229.4 L274.8,227.8 L276.4,226.1 L278.0,224.4 L279.7,222.6 L281.3,220.9 L282.9,219.1 L284.6,217.4 L286.2,215.6 L287.9,213.8 L289.5,212.0 L291.1,210.2 L292.8,208.3 L294.4,206.5 L296.0,204.7 L297.7,202.8 L299.3,200.9 L300.9,199.1 L302.6,197.2 L304.2,195.3 L305.9,193.4 L307.5,191.5 L309.1,189.6 L310.8,187.7 L312.4,185.8 L314.0,183.8 L315.7,181.9 L317.3,180.0 L318.9,178.1 L320.6,176.1 L322.2,174.2 L323.8,172.3 L325.5,170.4 L327.1,168.4 L328.8,166.5 L330.4,164.6 L332.0,162.6 L333.7,160.7 L335.3,158.8 L336.9,156.9 L338.6,155.0 L340.2,153.1 L341.8,151.2 L343.5,149.3 L345.1,147.4 L346.8,145.5 L348.4,143.7 L350.0,141.8 L351.7,139.9 L353.3,138.1 L354.9,136.2 L356.6,134.4 L358.2,132.6 L359.8,130.8 L361.5,129.0 L363.1,127.2 L364.7,125.4 L366.4,123.6 L368.0,121.8 L369.7,120.1 L371.3,118.4 L372.9,116.6 L374.6,114.9 L376.2,113.2 L377.8,111.5 L379.5,109.9 L381.1,108.2 L382.7,106.6 L384.4,104.9 L386.0,103.3 L387.7,101.7 L389.3,100.1 L390.9,98.6 L392.6,97.0 L394.2,95.5 L395.8,93.9 L397.5,92.4 L399.1,91.0 L400.7,89.5 L402.4,88.0 L404.0,86.6 L405.6,85.2 L407.3,83.8 L408.9,82.4 L410.6,81.0 L412.2,79.7 L413.8,78.3 L415.5,77.0 L417.1,75.7 L418.7,74.5 L420.4,73.2 L422.0,72.0 L423.6,70.8 L425.3,69.6 L426.9,68.4 L428.6,67.2 L430.2,66.1 L431.8,65.0 L433.5,63.9 L435.1,62.8 L436.7,61.7 L438.4,60.7 L440.0,59.7 L441.6,58.7 L443.3,57.7 L444.9,56.7 L446.5,55.8 L448.2,54.9 L449.8,54.0 L451.5,53.1 L453.1,52.2 L454.7,51.4 L456.4,50.6 L458.0,49.8 L459.6,49.0 L461.3,48.3 L462.9,47.5 L464.5,46.8 L466.2,46.1 L467.8,45.5 L469.5,44.8 L471.1,44.2 L472.7,43.6 L474.4,43.0 L476.0,42.4 L477.6,41.9 L479.3,41.4 L480.9,40.9 L482.5,40.4 L484.2,39.9 L485.8,39.5 L487.4,39.1 L489.1,38.7 L490.7,38.3 L492.4,37.9 L494.0,37.6 L495.6,37.3 L497.3,37.0 L498.9,36.7 L500.5,36.4 L502.2,36.2 L503.8,36.0 L505.4,35.8 L507.1,35.6 L508.7,35.5 L510.4,35.4 L512.0,35.2 L513.6,35.2 L515.3,35.1 L516.9,35.0 L518.5,35.0 L520.2,35.0 L521.8,35.0 L523.4,35.0 L525.1,35.1 L526.7,35.2 L528.3,35.2 L530.0,35.3 L531.6,35.5 L533.3,35.6 L534.9,35.8 L536.5,36.0 L538.2,36.2 L539.8,36.4 L541.4,36.7 L543.1,36.9" stroke="#0a72c4"/>
<path d="M49.0,297.0 L50.6,296.9 L52.3,296.8 L53.9,296.7 L55.5,296.6 L57.2,296.5 L58.8,296.4 L60.5,296.3 L62.1,296.2 L63.7,296.1 L65.4,296.0 L67.0,295.9 L68.6,295.7 L70.3,295.6 L71.9,295.5 L73.5,295.4 L75.2,295.3 L76.8,295.2 L78.4,295.1 L80.1,295.0 L81.7,294.9 L143.9,290.9 L145.5,290.7 L147.2,290.6 L148.8,290.5 L150.4,290.3 L152.1,290.2 L153.7,290.0 L155.3,289.9 L157.0,289.7 L158.6,289.6 L160.2,289.4 L161.9,289.2 L163.5,289.0 L165.2,288.8 L166.8,288.6 L214.2,274.9 L215.9,274.1 L217.5,273.3 L219.1,272.4 L220.8,271.5 L222.4,270.6" stroke="#a33a0c" stroke-dasharray="3 11" stroke-dashoffset="3.7"/>
<path d="M49.0,297.0 L50.6,296.9 L52.3,296.8 L53.9,296.7 L55.5,296.6 L57.2,296.5 L58.8,296.4 L60.5,296.3 L62.1,296.2 L63.7,296.1 L65.4,296.0 L67.0,295.9 L68.6,295.7 L70.3,295.6 L71.9,295.5 L73.5,295.4 L75.2,295.3 L76.8,295.2 L78.4,295.1 L80.1,295.0 L81.7,294.9 L83.4,294.8 L85.0,294.7 L86.6,294.6 L148.8,290.5 L150.4,290.3 L152.1,290.2 L153.7,290.0 L155.3,289.9 L157.0,289.7 L158.6,289.6 L160.2,289.4 L161.9,289.2 L163.5,289.0 L165.2,288.8 L166.8,288.6 L168.4,288.4 L170.1,288.1 L232.2,264.5 L233.9,263.4 L235.5,262.2 L237.1,261.1 L238.8,259.9" stroke="#bf00c8" stroke-dasharray="3 13" stroke-dashoffset="7.4"/>
<path d="M49.0,297.0 L50.6,296.9 L52.3,296.8 L53.9,296.7 L55.5,296.6 L57.2,296.5 L58.8,296.4 L60.5,296.3 L62.1,296.2 L63.7,296.1 L65.4,296.0 L67.0,295.9 L68.6,295.7 L70.3,295.6 L71.9,295.5 L73.5,295.4 L75.2,295.3 L76.8,295.2 L78.4,295.1 L80.1,295.0 L81.7,294.9 L83.4,294.8 L85.0,294.7 L86.6,294.6 L88.3,294.5 L89.9,294.4 L91.5,294.3 L93.2,294.2 L153.7,290.0 L155.3,289.9 L157.0,289.7 L158.6,289.6 L160.2,289.4 L161.9,289.2 L163.5,289.0 L165.2,288.8 L166.8,288.6 L168.4,288.4 L170.1,288.1 L171.7,287.9 L173.3,287.6 L175.0,287.4 L176.6,287.1 L247.0,253.6 L248.6,252.2 L250.2,250.9 L251.9,249.5 L253.5,248.0" stroke="#000000" stroke-dasharray="3 9" stroke-dashoffset="11.1"/>
<path d="M49.0,297.0 L50.6,296.9 L52.3,296.8 L53.9,296.7 L55.5,296.6 L57.2,296.5 L58.8,296.4 L60.5,296.3 L62.1,296.2 L63.7,296.1 L65.4,296.0 L67.0,295.9 L68.6,295.7 L70.3,295.6 L71.9,295.5 L73.5,295.4 L75.2,295.3 L76.8,295.2 L78.4,295.1 L80.1,295.0 L81.7,294.9 L83.4,294.8 L85.0,294.7 L86.6,294.6 L88.3,294.5 L89.9,294.4 L91.5,294.3 L93.2,294.2 L94.8,294.1 L96.4,294.0 L98.1,293.9 L99.7,293.8 L101.4,293.7 L103.0,293.6 L104.6,293.5 L106.3,293.3 L155.3,289.9 L157.0,289.7 L158.6,289.6 L160.2,289.4 L161.9,289.2 L163.5,289.0 L165.2,288.8 L166.8,288.6 L168.4,288.4 L170.1,288.1 L171.7,287.9 L173.3,287.6 L175.0,287.4 L176.6,287.1 L178.2,286.8 L179.9,286.4 L181.5,286.1 L183.2,285.7 L184.8,285.4 L258.4,243.7" stroke="#0a820a" stroke-dasharray="3 11" stroke-dashoffset="14.8"/>
<path d="M49.0,297.0 L50.6,296.9 L52.3,296.8 L53.9,296.7 L55.5,296.6 L57.2,296.5 L58.8,296.4 L60.5,296.3 L62.1,296.2 L63.7,296.1 L65.4,296.0 L67.0,295.9 L68.6,295.7 L70.3,295.6 L71.9,295.5 L73.5,295.4 L75.2,295.3 L76.8,295.2 L78.4,295.1 L80.1,295.0 L81.7,294.9 L83.4,294.8 L85.0,294.7 L86.6,294.6 L88.3,294.5 L89.9,294.4 L91.5,294.3 L93.2,294.2 L94.8,294.1 L96.4,294.0 L98.1,293.9 L99.7,293.8 L101.4,293.7 L103.0,293.6 L104.6,293.5 L106.3,293.3 L107.9,293.2 L109.5,293.1 L111.2,293.0 L112.8,292.9 L114.4,292.8 L116.1,292.7 L117.7,292.6 L119.3,292.5 L121.0,292.4 L122.6,292.3 L124.3,292.2 L125.9,292.1 L127.5,292.0 L129.2,291.9 L130.8,291.8 L132.4,291.7 L134.1,291.5 L135.7,291.4 L137.3,291.3 L139.0,291.2 L140.6,291.1 L142.3,291.0 L143.9,290.9 L145.5,290.7 L147.2,290.6 L148.8,290.5 L150.4,290.3 L152.1,290.2 L153.7,290.0 L155.3,289.9 L157.0,289.7 L158.6,289.6 L160.2,289.4 L161.9,289.2 L163.5,289.0 L165.2,288.8 L166.8,288.6 L168.4,288.4 L170.1,288.1 L171.7,287.9 L173.3,287.6 L175.0,287.4 L176.6,287.1 L178.2,286.8 L179.9,286.4 L181.5,286.1 L183.2,285.7 L184.8,285.4 L186.4,285.0 L188.1,284.6 L189.7,284.1 L191.3,283.7 L193.0,283.2 L194.6,282.7" stroke="#0e72c6" stroke-dasharray="3 13" stroke-dashoffset="18.5"/>
<path d="M49.0,297.0 L50.6,296.9 L52.3,296.8 L53.9,296.7 L55.5,296.6 L57.2,296.5 L58.8,296.4 L60.5,296.3 L62.1,296.2 L63.7,296.1 L65.4,296.0 L67.0,295.9 L68.6,295.7 L70.3,295.6 L71.9,295.5 L73.5,295.4 L75.2,295.3 L76.8,295.2 L78.4,295.1 L80.1,295.0 L81.7,294.9 L83.4,294.8 L85.0,294.7 L86.6,294.6 L88.3,294.5 L89.9,294.4 L91.5,294.3 L93.2,294.2 L94.8,294.1 L96.4,294.0 L98.1,293.9 L99.7,293.8 L101.4,293.7 L103.0,293.6 L104.6,293.5 L106.3,293.3 L107.9,293.2 L109.5,293.1 L111.2,293.0 L112.8,292.9 L114.4,292.8 L116.1,292.7 L117.7,292.6 L119.3,292.5 L121.0,292.4 L122.6,292.3 L124.3,292.2 L125.9,292.1 L127.5,292.0 L129.2,291.9 L130.8,291.8 L132.4,291.7 L134.1,291.5 L135.7,291.4 L137.3,291.3 L139.0,291.2 L140.6,291.1 L142.3,291.0 L143.9,290.9 L145.5,290.7 L147.2,290.6 L148.8,290.5 L150.4,290.3 L152.1,290.2 L153.7,290.0 L155.3,289.9 L157.0,289.7 L158.6,289.6 L160.2,289.4 L161.9,289.2 L163.5,289.0 L165.2,288.8 L166.8,288.6 L168.4,288.4 L170.1,288.1 L171.7,287.9 L173.3,287.6 L175.0,287.4 L176.6,287.1 L178.2,286.8 L179.9,286.4 L181.5,286.1 L183.2,285.7 L184.8,285.4 L186.4,285.0 L188.1,284.6 L189.7,284.1 L191.3,283.7 L193.0,283.2 L194.6,282.7 L196.2,282.2 L197.9,281.7 L199.5,281.1 L201.1,280.5 L202.8,279.9 L204.4,279.3 L206.1,278.6 L207.7,277.9 L209.3,277.2 L211.0,276.5 L212.6,275.7 L214.2,274.9 L215.9,274.1" stroke="#a80c2e" stroke-dasharray="3 9" stroke-dashoffset="22.2"/>
<path d="M49.0,297.1 H538.7" stroke="#d95319" stroke-width="2.5" stroke-dasharray="6.3 7"/>
<path d="M50.0,145.6 H441.6" stroke="#000" stroke-width="2.4" stroke-dasharray="5.9 5.77"/>
<path d="M441.7,145.4 V296.6" stroke="#000" stroke-width="2.5" stroke-dasharray="7.6 7.47" stroke-dashoffset="7.0"/>
<path d="M49.0,297.0 L197.0,297.2 L206.0,296.9 L219.3,295.6 L232.4,294.4 L245.5,293.4 L252.0,291.0 L262.5,287.3 L279.0,280.1 L294.0,274.1 L308.5,265.6 L322.5,256.9 L342.0,242.8 L356.0,232.2 L364.0,225.0 L376.0,213.6 L389.0,201.2 L397.5,192.5 L409.1,180.2 L419.3,168.9 L429.5,158.0 L438.9,146.6 L441.6,145.9" stroke="#ff0000" stroke-width="2.6" stroke-dasharray="6.4 6.4" stroke-dashoffset="9.6"/>
<path d="M441.6,145.9 H538.7" stroke="#ff0000" stroke-width="2.6" stroke-dasharray="6.2 6.6" stroke-dashoffset="3.4"/>
</g>
<rect x="139" y="47.4" width="58.6" height="22.6" fill="#fff" stroke="#222" stroke-width="1.1"/>
<text transform="translate(48.4,361.0) scale(0.8896,1)" font-size="15.0" text-anchor="middle" fill="#262626" xml:space="preserve">0</text>
<text transform="translate(113.8,361.0) scale(0.8892,1)" font-size="15.0" text-anchor="middle" fill="#262626" xml:space="preserve">0.2</text>
<text transform="translate(179.3,361.0) scale(0.8892,1)" font-size="15.0" text-anchor="middle" fill="#262626" xml:space="preserve">0.4</text>
<text transform="translate(244.7,361.0) scale(0.8892,1)" font-size="15.0" text-anchor="middle" fill="#262626" xml:space="preserve">0.6</text>
<text transform="translate(310.2,361.0) scale(0.8892,1)" font-size="15.0" text-anchor="middle" fill="#262626" xml:space="preserve">0.8</text>
<text transform="translate(375.6,361.0) scale(0.8896,1)" font-size="15.0" text-anchor="middle" fill="#262626" xml:space="preserve">1</text>
<text transform="translate(441.0,361.0) scale(0.8892,1)" font-size="15.0" text-anchor="middle" fill="#262626" xml:space="preserve">1.2</text>
<text transform="translate(506.5,361.0) scale(0.8892,1)" font-size="15.0" text-anchor="middle" fill="#262626" xml:space="preserve">1.4</text>
<text transform="translate(43.6,343.6) scale(0.8888,1)" font-size="15.0" text-anchor="end" fill="#262626" xml:space="preserve">-0.2</text>
<text transform="translate(43.6,302.1) scale(0.8896,1)" font-size="15.0" text-anchor="end" fill="#262626" xml:space="preserve">0</text>
<text transform="translate(43.6,260.6) scale(0.8892,1)" font-size="15.0" text-anchor="end" fill="#262626" xml:space="preserve">0.2</text>
<text transform="translate(43.6,219.0) scale(0.8892,1)" font-size="15.0" text-anchor="end" fill="#262626" xml:space="preserve">0.4</text>
<text transform="translate(43.6,177.5) scale(0.8892,1)" font-size="15.0" text-anchor="end" fill="#262626" xml:space="preserve">0.6</text>
<text transform="translate(43.6,135.9) scale(0.8892,1)" font-size="15.0" text-anchor="end" fill="#262626" xml:space="preserve">0.8</text>
<text transform="translate(43.6,94.4) scale(0.8896,1)" font-size="15.0" text-anchor="end" fill="#262626" xml:space="preserve">1</text>
<text transform="translate(43.6,52.9) scale(0.8892,1)" font-size="15.0" text-anchor="end" fill="#262626" xml:space="preserve">1.2</text>
<text transform="translate(152.1,382.0) scale(0.9283,1)" font-size="16.0" text-anchor="start" fill="#1a1a1a" xml:space="preserve">Turbine speed  (pu of nominal generator speed)</text>
<text transform="translate(144.8,62.7) scale(0.7925,1)" font-size="13.6" text-anchor="start" fill="#000" stroke="#000" stroke-width="0.2" xml:space="preserve">Region II</text>
<text transform="translate(278.7,65.0) scale(0.8186,1)" font-size="16.2" text-anchor="start" fill="#000" xml:space="preserve">Optimal Power Curve</text>
<text transform="translate(60.0,136.7) scale(0.8198,1)" font-size="16.2" text-anchor="start" fill="#000" xml:space="preserve">Max. power at base wind speed (7 m/s) and beta = 0<tspan font-size="9" dy="-8" dx="1.5">°</tspan></text>
<text transform="translate(444.6,291.7) scale(0.8428,1)" font-size="15.2" text-anchor="start" fill="#000" xml:space="preserve">1.2 pu</text>
<text transform="translate(451.6,31.6) scale(0.9723,1)" font-size="16.4" text-anchor="start" fill="#000" font-style="italic" xml:space="preserve">υ</text>
<text transform="translate(458.6,39.2) scale(0.9798,1)" font-size="10.8" text-anchor="start" fill="#000" xml:space="preserve">8</text>
<text transform="translate(463.3,31.6) scale(0.8071,1)" font-size="16.4" text-anchor="start" fill="#000" xml:space="preserve">= 10.4 m/s</text>
<text transform="translate(439.4,88.2) scale(0.9723,1)" font-size="16.4" text-anchor="start" fill="#000" font-style="italic" xml:space="preserve">υ</text>
<text transform="translate(446.4,95.8) scale(0.9798,1)" font-size="10.8" text-anchor="start" fill="#000" xml:space="preserve">7</text>
<text transform="translate(451.1,88.2) scale(0.8067,1)" font-size="16.4" text-anchor="start" fill="#000" xml:space="preserve">= 8.2 m/s</text>
<text transform="translate(407.8,136.2) scale(0.9723,1)" font-size="16.4" text-anchor="start" fill="#000" font-style="italic" xml:space="preserve">υ</text>
<text transform="translate(414.8,143.8) scale(0.9798,1)" font-size="10.8" text-anchor="start" fill="#000" xml:space="preserve">6</text>
<text transform="translate(419.5,136.2) scale(0.8064,1)" font-size="16.4" text-anchor="start" fill="#000" xml:space="preserve">= 7 m/s</text>
<text transform="translate(365.6,178.2) scale(0.9723,1)" font-size="16.4" text-anchor="start" fill="#000" font-style="italic" xml:space="preserve">υ</text>
<text transform="translate(372.6,185.8) scale(0.9798,1)" font-size="10.8" text-anchor="start" fill="#000" xml:space="preserve">5</text>
<text transform="translate(377.3,178.2) scale(0.8067,1)" font-size="16.4" text-anchor="start" fill="#000" xml:space="preserve">= 6.8 m/s</text>
<text transform="translate(340.0,211.3) scale(0.9723,1)" font-size="16.4" text-anchor="start" fill="#000" font-style="italic" xml:space="preserve">υ</text>
<text transform="translate(347.0,218.9) scale(0.9798,1)" font-size="10.8" text-anchor="start" fill="#000" xml:space="preserve">4</text>
<text transform="translate(351.7,211.3) scale(0.8067,1)" font-size="16.4" text-anchor="start" fill="#000" xml:space="preserve">= 5.6 m/s</text>
<text transform="translate(313.8,236.4) scale(0.9723,1)" font-size="16.4" text-anchor="start" fill="#000" font-style="italic" xml:space="preserve">υ</text>
<text transform="translate(320.8,244.0) scale(0.9798,1)" font-size="10.8" text-anchor="start" fill="#000" xml:space="preserve">3</text>
<text transform="translate(325.5,236.4) scale(0.8067,1)" font-size="16.4" text-anchor="start" fill="#000" xml:space="preserve">= 4.4 m/s</text>
<text transform="translate(298.6,254.8) scale(0.9723,1)" font-size="16.4" text-anchor="start" fill="#000" font-style="italic" xml:space="preserve">υ</text>
<text transform="translate(305.6,262.4) scale(0.9798,1)" font-size="10.8" text-anchor="start" fill="#000" xml:space="preserve">2</text>
<text transform="translate(310.3,254.8) scale(0.8067,1)" font-size="16.4" text-anchor="start" fill="#000" xml:space="preserve">= 3.2 m/s</text>
<text transform="translate(256.4,275.5) scale(0.9723,1)" font-size="16.4" text-anchor="start" fill="#000" font-style="italic" xml:space="preserve">υ</text>
<text transform="translate(263.4,283.1) scale(0.9798,1)" font-size="10.8" text-anchor="start" fill="#000" xml:space="preserve">1</text>
<text transform="translate(268.1,275.5) scale(0.8064,1)" font-size="16.4" text-anchor="start" fill="#000" xml:space="preserve">= 2 m/s</text>
<text transform="translate(19.7,351.0) rotate(-90) scale(1.1213,1)" font-size="13.5" fill="#1a1a1a">Turbine output power (pu of nominal mechanical power)</text>
<!-- double arrow -->
<g stroke="#000" fill="#000">
<path d="M60,39.2 L434,40.0" stroke-width="2.5" fill="none"/>
<path d="M51.3,39.2 L70,31.6 L65,39.2 L70,46 Z" stroke="none"/>
<path d="M442.6,40.1 L423.9,32.6 L428.9,40.1 L423.9,47 Z" stroke="none"/>
<path d="M394.7,67.2 L503,142.8" stroke-width="2.4" fill="none"/>
<path d="M510,147.7 L493.6,142.8 L499.4,140.3 L501.6,135.2 Z" stroke="none"/>
</g>
</svg>
</body></html>
